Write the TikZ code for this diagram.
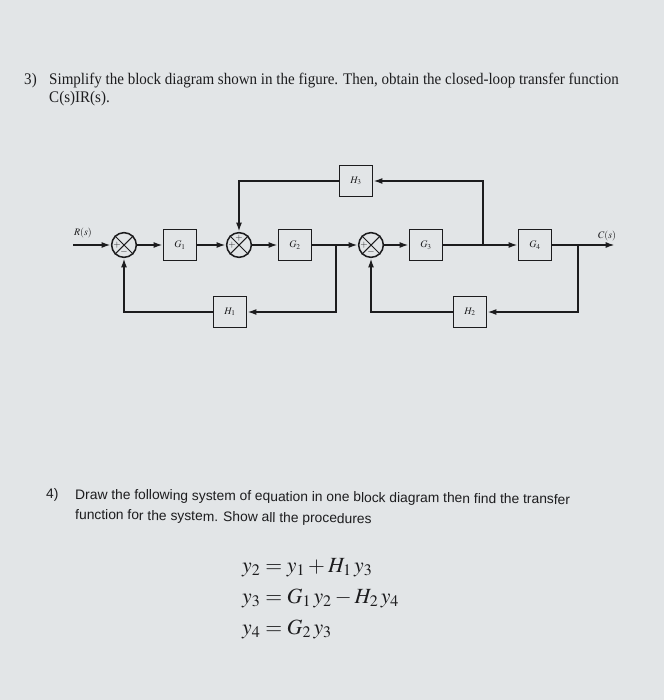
\documentclass[tikz,border=0pt]{standalone}
\usepackage{mathptmx}
\usepackage{fontspec}
\setmainfont{Liberation Serif}
\newfontfamily\qserif{Liberation Serif}[FakeStretch=0.93]
\newfontfamily\qsans{Liberation Sans}
\usetikzlibrary{arrows.meta}
\definecolor{paper}{RGB}{226,229,231}
\definecolor{ink}{RGB}{28,28,30}

\begin{document}
\begin{tikzpicture}
	[
		x=0.03cm, y=-0.03cm,
		every node/.style={text=ink, inner sep=0pt},
		block/.style={draw=ink, line width=1.3pt, minimum width=0.98cm, minimum height=0.92cm, font=\fontsize{8.5}{9}\selectfont},
		sumjunc/.style={draw=ink, circle, line width=1.3pt, minimum size=0.74cm},
		wire/.style={draw=ink, line width=1.6pt},
		sig/.style={wire, -{Latex[length=2.8mm,width=1.8mm]}},
		sign/.style={font=\fontsize{8}{8}\selectfont},
		qthree/.style={anchor=base west, font=\qserif\fontsize{13.8}{16}\selectfont},
		qfour/.style={anchor=base west, font=\qsans\fontsize{11.8}{13}\selectfont},
		eqn/.style={anchor=base west, font=\fontsize{18.5}{21}\selectfont}
	]
	\fill[paper] (0,0) rectangle (664,700);
	\useasboundingbox (0,0) rectangle (664,700);

	% question 3
	\node(q3) [qthree] at (24,84) {3)};
	\node(q3a) [qthree] at (49,84) {Simplify the block diagram shown in the figure. Then, obtain the closed-loop transfer function};
	\node(q3b) [qthree] at (49,102) {C(s)IR(s).};

	% forward path
	\coordinate (rin) at (73,245);
	\node(s1) [sumjunc] at (124,245) {};
	\node(G1) [block] at (180,245) {$G_1$};
	\node(s2) [sumjunc] at (239,245) {};
	\node(G2) [block] at (295,245) {$G_2$};
	\coordinate (b1) at (336,245);
	\node(s3) [sumjunc] at (371,245) {};
	\node(G3) [block] at (426,245) {$G_3$};
	\coordinate (b2) at (483,245);
	\node(G4) [block] at (535,245) {$G_4$};
	\coordinate (b3) at (578,245);
	\coordinate (cout) at (615,245);

	% feedback blocks
	\node(H3) [block] at (356,181) {$H_3$};
	\node(H1) [block] at (230,312) {$H_1$};
	\node(H2) [block] at (470,312) {$H_2$};

	\node(Rlabel) [font=\fontsize{8.5}{9}\selectfont] at (83,233) {$R(s)$};
	\node(Clabel) [font=\fontsize{8.5}{9}\selectfont] at (607,236) {$C(s)$};

	\foreach \a/\b in {rin/s1, s1/G1, G1/s2, s2/G2, G2/s3, s3/G3, G3/G4, G4/cout}
		\draw[sig] (\a) -- (\b);
	\draw[sig] (b1) |- (H1);
	\draw[sig] (H1) -| (s1);
	\draw[sig] (b2) |- (H3);
	\draw[sig] (H3) -| (s2);
	\draw[sig] (b3) |- (H2);
	\draw[sig] (H2) -| (s3);

	\foreach \s in {s1,s2,s3}
		\draw[ink, line width=0.9pt] (\s.north west) -- (\s.south east) (\s.north east) -- (\s.south west);
%	signs
	\node[sign] at ([shift={(-7,0)}]s1.center) {$+$};
	\node[sign] at ([shift={(0,7)}]s1.center) {$-$};
	\node[sign] at ([shift={(0,-7)}]s2.center) {$+$};
	\node[sign] at ([shift={(-7,0)}]s2.center) {$+$};
	\node[sign] at ([shift={(-7,0)}]s3.center) {$+$};
	\node[sign] at ([shift={(0,7)}]s3.center) {$-$};

	% question 4
	\node(q4) [qfour] at (46,498) {4)};
	\node(q4a) [qfour, rotate=-0.6] at (75,499) {Draw the following system of equation in one block diagram then find the transfer};
	\node(q4b) [qfour, rotate=-0.9] at (75,519) {function for the system. Show all the procedures};

	\node(eq1) [eqn] at (242,572) {$y_2 = y_1 + H_1\,y_3$};
	\node(eq2) [eqn] at (242,603) {$y_3 = G_1\,y_2 - H_2\,y_4$};
	\node(eq3) [eqn] at (242,634) {$y_4 = G_2\,y_3$};
\end{tikzpicture}
\end{document}
